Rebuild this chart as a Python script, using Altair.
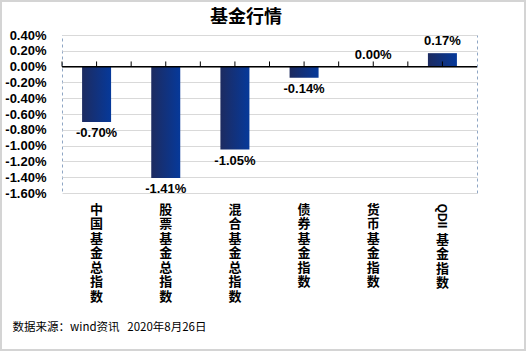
import altair as alt
import pandas as pd

categories = ["中国基金总指数", "股票基金总指数", "混合基金总指数", "债券基金指数", "货币基金指数", "QDII基金指数"]
values = [-0.70, -1.41, -1.05, -0.14, 0.00, 0.17]
y_ticks = [0.40, 0.20, 0.00, -0.20, -0.40, -0.60, -0.80, -1.00, -1.20, -1.40, -1.60]
title_text = "基金行情"
source_text = "数据来源：wind资讯\u00a0\u00a0\u00a02020年8月26日"

df = pd.DataFrame({"cat": categories, "v": values})

W, H = 415, 158
num_font = "Liberation Sans"
cjk_font = "Noto Sans CJK SC"

x_axis = alt.Axis(
    orient="bottom",
    domain=False,
    ticks=False,
    labelAngle=0,
    labelExpr="split(indexof(datum.value, 'QDII') == 0 ? slice(datum.value, 4) : datum.value, '')",
    labelFont=cjk_font,
    labelFontWeight="bold",
    labelFontSize=13,
    labelLineHeight=14.5,
    labelPadding=alt.ExprRef("indexof(datum.value, 'QDII') == 0 ? 40 : 10"),
    labelBaseline="top",
    labelColor="#000000",
    labelOverlap=False,
    title=source_text,
    titleAnchor="start",
    titleAlign="left",
    titleX=-50,
    titleY=134,
    titleBaseline="middle",
    titleFont=cjk_font,
    titleFontSize=11.5,
    titleFontWeight="normal",
    titleColor="#000000",
)

y_axis = alt.Axis(
    values=y_ticks,
    labelExpr="replace(format(datum.value, '.2f'), '\u2212', '-') + '%'",
    labelFont=num_font,
    labelFontWeight="bold",
    labelFontSize=13,
    labelColor="#000000",
    labelPadding=16,
    labelOverlap=False,
    labelFlush=False,
    domain=False,
    ticks=False,
    grid=True,
    gridColor="#d9d9d9",
    title=None,
)

x_scale = alt.Scale(domain=categories, paddingInner=0, paddingOuter=0)
y_scale = alt.Scale(domain=[-1.6, 0.4], nice=False, zero=False)


def xf(band=0.5):
    return alt.X("cat:N", sort=categories, scale=x_scale, axis=x_axis, bandPosition=band)


def yf():
    return alt.Y("v:Q", scale=y_scale, axis=y_axis)


gradient = alt.Gradient(
    gradient="linear",
    stops=[
        alt.GradientStop(color="#1d2b60", offset=0),
        alt.GradientStop(color="#06399a", offset=1),
    ],
    x1=0, x2=1, y1=0, y2=0,
)

base = alt.Chart(df)

bars = base.mark_bar(size=29, color=gradient).encode(
    x=xf(),
    y=yf(),
    y2=alt.datum(0),
)

zero_line = base.mark_rule(color="#000000", strokeWidth=1).encode(
    y=alt.datum(0, scale=y_scale, axis=y_axis)
)

ticks0 = base.mark_rule(color="#000000", strokeWidth=1).encode(
    x=xf(0),
    y=alt.datum(0, scale=y_scale, axis=y_axis),
    y2=alt.datum(0.065),
)
ticks5 = base.mark_rule(color="#000000", strokeWidth=1).encode(
    x=xf(0.5),
    y=alt.datum(0, scale=y_scale, axis=y_axis),
    y2=alt.datum(0.065),
)

lab = base.transform_calculate(label="replace(format(datum.v, '.2f'), '\u2212', '-') + '%'")

neg_labels = lab.transform_filter("datum.v < 0").mark_text(
    font=num_font, fontWeight="bold", fontSize=13, color="#000000",
    baseline="middle", dy=11,
).encode(x=xf(), y=yf(), text="label:N")

pos_labels = lab.transform_filter("datum.v >= 0").mark_text(
    font=num_font, fontWeight="bold", fontSize=13, color="#000000",
    baseline="middle", dy=-12,
).encode(x=xf(), y=yf(), text="label:N")

qdii = base.transform_filter("indexof(datum.cat, 'QDII') == 0").mark_text(
    text="QDII", angle=90, font=num_font, fontWeight="bold", fontSize=12,
    color="#000000", baseline="middle", align="center",
).encode(x=xf(), y=alt.value(181))

title_mark = base.transform_filter("datum.v == 0").mark_text(
    text=title_text, font=cjk_font, fontSize=18, fontWeight="bold",
    color="#000000", baseline="middle", align="center",
).encode(x=alt.value(184), y=alt.value(-17))

frame = base.transform_filter("datum.v == 0").mark_rect(
    fill=None, stroke="#d4d4d4", strokeWidth=2,
).encode(x=alt.value(-61), x2=alt.value(W + 48), y=alt.value(-34), y2=alt.value(H + 157))

chart = alt.layer(bars, zero_line, ticks0, ticks5, neg_labels, pos_labels, qdii, title_mark, frame).properties(
    width=W,
    height=H,
    autosize=alt.AutoSizeParams(type="none"),
    padding={"left": 62, "top": 35, "right": 49, "bottom": 158},
    background="#ffffff",
).configure_view(
    stroke="#8fa6c4",
    strokeDash=[3, 3],
    strokeWidth=1,
)

chart.save("out.html", embed_options={"renderer": "svg", "actions": False})
